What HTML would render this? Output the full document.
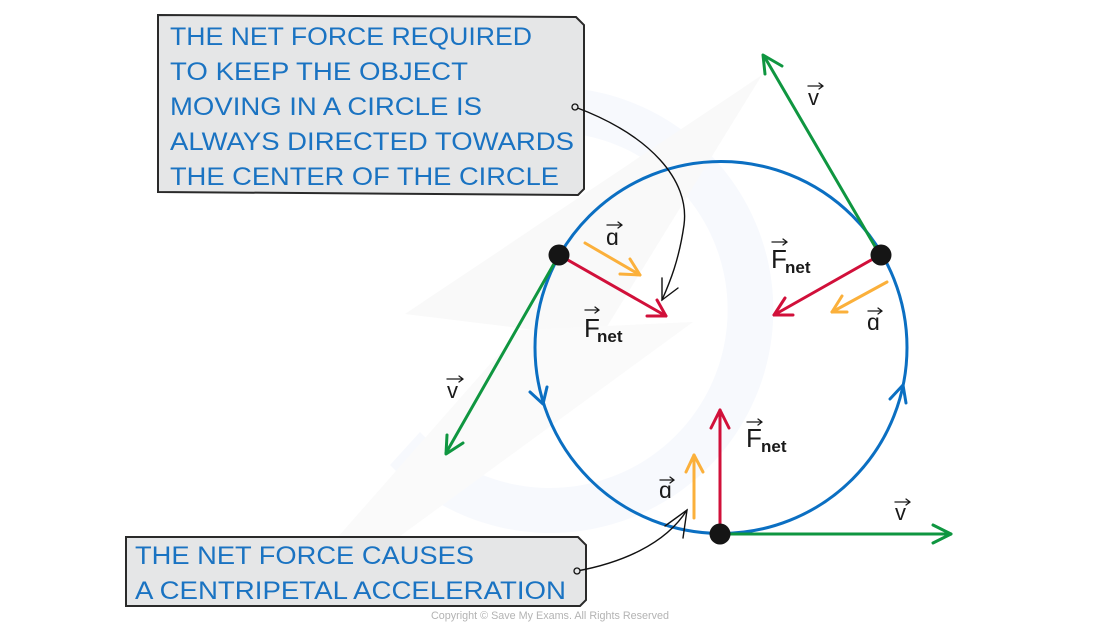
<!DOCTYPE html>
<html>
<head>
<meta charset="utf-8">
<style>
html,body{margin:0;padding:0;background:#fff;}
svg{display:block;}
.box{font-family:"Liberation Sans","DejaVu Sans",sans-serif;font-size:25px;fill:#1a73c2;}
.lbl{font-family:"Liberation Sans","DejaVu Sans",sans-serif;fill:#1a1a1a;}
</style>
</head>
<body>
<svg width="1100" height="622" viewBox="0 0 1100 622" xmlns="http://www.w3.org/2000/svg">
  <!-- watermark -->
  <path d="M 550 87 A 223 223 0 1 1 390 465 L 420 432 A 178 178 0 1 0 550 132 Z" fill="#f7f9fd"/>
  <polygon points="762,75 405,314 600,338" fill="#f9f9f9"/>
  <polygon points="693,322 520,330 300,580 340,580" fill="#fafafa"/>

  <!-- top box -->
  <polygon points="158,15 576,17 584,25 584,189 578,195 158,192" fill="#e5e6e7" stroke="#2a2a2a" stroke-width="2"/>
  <text class="box" x="170" y="45" textLength="362" lengthAdjust="spacingAndGlyphs">THE NET FORCE REQUIRED</text>
  <text class="box" x="170" y="80" textLength="298" lengthAdjust="spacingAndGlyphs">TO KEEP THE OBJECT</text>
  <text class="box" x="170" y="115" textLength="312" lengthAdjust="spacingAndGlyphs">MOVING IN A CIRCLE IS</text>
  <text class="box" x="170" y="150" textLength="404" lengthAdjust="spacingAndGlyphs">ALWAYS DIRECTED TOWARDS</text>
  <text class="box" x="170" y="185" textLength="389" lengthAdjust="spacingAndGlyphs">THE CENTER OF THE CIRCLE</text>

  <!-- bottom box -->
  <polygon points="126,537 578,537 586,545 586,600 580,606 126,606" fill="#e5e6e7" stroke="#2a2a2a" stroke-width="2"/>
  <text class="box" x="135" y="564" textLength="339" lengthAdjust="spacingAndGlyphs">THE NET FORCE CAUSES</text>
  <text class="box" x="135" y="599" textLength="431" lengthAdjust="spacingAndGlyphs">A CENTRIPETAL ACCELERATION</text>

  <!-- circle -->
  <circle cx="721" cy="347.5" r="186" fill="none" stroke="#0b6fc2" stroke-width="3"/>
  <!-- circle chevrons -->
  <polyline points="530,392 543,404 547,387" fill="none" stroke="#0b6fc2" stroke-width="3" stroke-linecap="round" stroke-linejoin="round"/>
  <polyline points="890,399 903,385 906,403" fill="none" stroke="#0b6fc2" stroke-width="3" stroke-linecap="round" stroke-linejoin="round"/>

  <!-- green velocity arrows -->
  <g stroke="#0f9640" stroke-width="3" fill="none" stroke-linecap="round" stroke-linejoin="round">
    <line x1="880" y1="255" x2="764" y2="56"/>
    <polyline points="765,74 763,55 782,66"/>
    <line x1="559" y1="255" x2="446" y2="453"/>
    <polyline points="447,435 446,454 463,443"/>
    <line x1="721" y1="534" x2="951" y2="534"/>
    <polyline points="933,525 951,534 933,543"/>
  </g>

  <!-- red force arrows -->
  <g stroke="#d1103a" stroke-width="3" fill="none" stroke-linecap="round" stroke-linejoin="round">
    <line x1="559" y1="255" x2="666" y2="316"/>
    <polyline points="657,300 666,316 647,316"/>
    <line x1="880" y1="255" x2="774" y2="315"/>
    <polyline points="785,298 774,315 793,315"/>
    <line x1="720" y1="534" x2="720" y2="410"/>
    <polyline points="711,428 720,410 729,428"/>
  </g>

  <!-- orange acceleration arrows -->
  <g stroke="#fbb03b" stroke-width="3" fill="none" stroke-linecap="round" stroke-linejoin="round">
    <line x1="585" y1="243" x2="640" y2="275"/>
    <polyline points="630,259 640,275 620,274"/>
    <line x1="887" y1="282" x2="832" y2="312"/>
    <polyline points="842,296 832,312 847,312"/>
    <line x1="694" y1="518" x2="694" y2="455"/>
    <polyline points="686,472 694,455 703,472"/>
  </g>

  <!-- dots -->
  <circle cx="559" cy="255" r="10.5" fill="#151515"/>
  <circle cx="881" cy="255" r="10.5" fill="#151515"/>
  <circle cx="720" cy="534" r="10.5" fill="#151515"/>

  <!-- connectors -->
  <g stroke="#111" stroke-width="1.4" fill="none" stroke-linecap="round">
    <path d="M575,107 C650,135 690,180 684,225 C679,260 670,282 662,300"/>
    <polyline points="662,278 662,300 678,288"/>
    <path d="M577,571 C620,563 665,545 687,510"/>
    <polyline points="665,526 687,510 683,538"/>
  </g>
  <circle cx="575" cy="107" r="3" fill="#e5e6e7" stroke="#111" stroke-width="1.3"/>
  <circle cx="577" cy="571" r="3" fill="#e5e6e7" stroke="#111" stroke-width="1.3"/>

  <!-- labels -->
  <g class="lbl">
    <text x="606" y="245" font-size="23">ɑ</text>
    <text x="584" y="337" font-size="26">F</text>
    <text x="597" y="342" font-size="17" font-weight="bold">net</text>
    <text x="771" y="268" font-size="26">F</text>
    <text x="785" y="273" font-size="17" font-weight="bold">net</text>
    <text x="867" y="330" font-size="23">ɑ</text>
    <text x="746" y="447" font-size="26">F</text>
    <text x="761" y="452" font-size="17" font-weight="bold">net</text>
    <text x="659" y="498" font-size="23">ɑ</text>
    <text x="895" y="520" font-size="22">v</text>
    <text x="447" y="398" font-size="22">v</text>
    <text x="808" y="105" font-size="22">v</text>
  </g>
  <!-- vector arrows over labels -->
  <g stroke="#1a1a1a" stroke-width="1.3" fill="none" stroke-linecap="round">
    <path d="M607,225 H622 M618,222 L622,225 L618,228"/>
    <path d="M585,310 H599 M595,307 L599,310 L595,313"/>
    <path d="M772,242 H787 M783,239 L787,242 L783,245"/>
    <path d="M868,311 H882 M878,308 L882,311 L878,314"/>
    <path d="M747,422 H762 M758,419 L762,422 L758,425"/>
    <path d="M660,480 H674 M670,477 L674,480 L670,483"/>
    <path d="M895,502 H910 M906,499 L910,502 L906,505"/>
    <path d="M447,379 H463 M459,376 L463,379 L459,382"/>
    <path d="M808,86 H823 M819,83 L823,86 L819,89"/>
  </g>

  <!-- copyright -->
  <text x="431" y="619" font-family="Liberation Sans, sans-serif" font-size="11" fill="#b3b3b3" textLength="238" lengthAdjust="spacingAndGlyphs">Copyright © Save My Exams. All Rights Reserved</text>
</svg>
</body>
</html>
